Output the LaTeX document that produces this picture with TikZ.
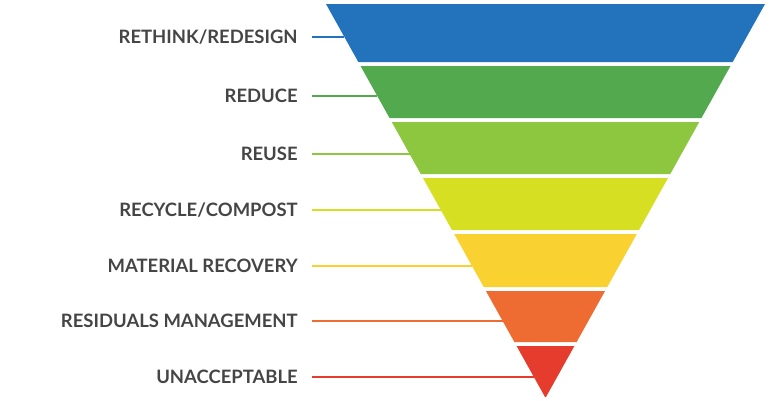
\documentclass[tikz,border=0pt]{standalone}
\usepackage{fontspec}
\setmainfont{Lato}
\usetikzlibrary{positioning,calc}
\definecolor{cBlue}{HTML}{2372BC}
\definecolor{cGreen}{HTML}{52A94E}
\definecolor{cLime}{HTML}{8DC63F}
\definecolor{cYgreen}{HTML}{D7DF23}
\definecolor{cYellow}{HTML}{F9D232}
\definecolor{cOrange}{HTML}{EE6B31}
\definecolor{cRed}{HTML}{E53C2E}
\definecolor{txt}{HTML}{454545}
\begin{document}
\begin{tikzpicture}[x=0.02cm, y=-0.02cm, every node/.style={font=\fontsize{10.5}{12}\selectfont\bfseries}]
  \tikzset{lab/.style={anchor=east, inner sep=0pt, text=txt}, lead/.style={line width=0.9pt}}
  \useasboundingbox (0,0) rectangle (775,400);
  % bands and labels
  \foreach \yt/\yb/\col/\ly/\name [count=\i] in {
      4/62/cBlue/37/RETHINK\slash REDESIGN,
      66/118/cGreen/96/REDUCE,
      122/174/cLime/154/REUSE,
      178/230/cYgreen/210/RECYCLE\slash COMPOST,
      234/287/cYellow/266/MATERIAL RECOVERY,
      291/342/cOrange/321/RESIDUALS MANAGEMENT,
      346/397/cRed/377/UNACCEPTABLE} {
    \pgfmathsetmacro{\xtl}{326+0.5573*(\yt-4)}
    \pgfmathsetmacro{\xtr}{765-0.5573*(\yt-4)}
    \pgfmathsetmacro{\xbl}{326+0.5573*(\yb-4)}
    \pgfmathsetmacro{\xbr}{765-0.5573*(\yb-4)}
    \pgfmathsetmacro{\xe}{326+0.5573*(\ly-4)}
    \fill[\col] (\xtl,\yt) -- (\xtr,\yt) -- (\xbr,\yb) -- (\xbl,\yb) -- cycle;
    \node[lab] (L\i) at (298,\ly) {\name};
    \coordinate (s\i) at (312,\ly);
    \coordinate (e\i) at (\xe,\ly);
    \draw[lead, \col] (s\i) -- (e\i);
  }
\end{tikzpicture}
\end{document}
